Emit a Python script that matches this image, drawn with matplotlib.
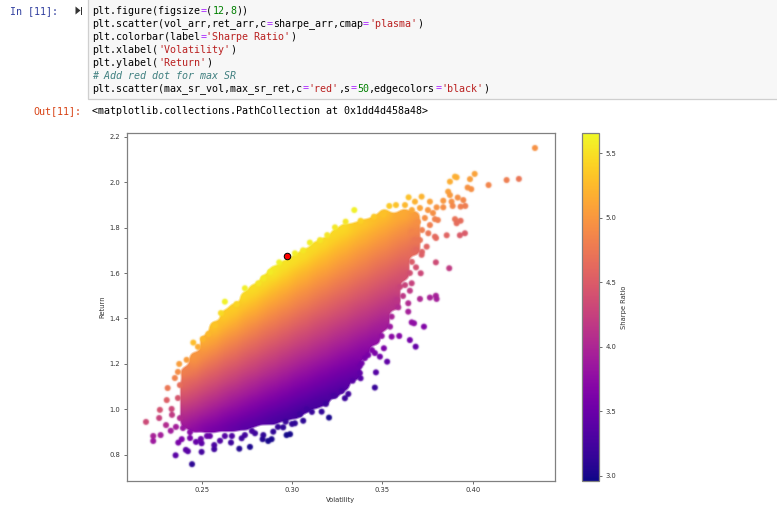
import numpy as np
import matplotlib
matplotlib.use("Agg")
import matplotlib.pyplot as plt
from matplotlib.patches import Rectangle, Polygon

# body of the cloud, one row per volatility column
vol_cols = [0.241, 0.246, 0.252, 0.257, 0.263, 0.268, 0.274, 0.279, 0.285, 0.290, 0.296, 0.302,
            0.307, 0.313, 0.318, 0.324, 0.329, 0.335, 0.340, 0.346, 0.351, 0.357, 0.362, 0.368]
ret_rows = [
    [.94, .975, 1.01, 1.045, 1.08, 1.115, 1.165],
    [.92, .955, .99, 1.025, 1.06, 1.095, 1.13, 1.165, 1.2, 1.23],
    [.92, .955, .99, 1.025, 1.06, 1.095, 1.13, 1.165, 1.2, 1.235, 1.27, 1.305],
    [.92, .955, .99, 1.025, 1.06, 1.095, 1.13, 1.165, 1.2, 1.235, 1.27, 1.305, 1.34, 1.365],
    [.925, .96, .995, 1.03, 1.065, 1.1, 1.135, 1.17, 1.205, 1.24, 1.275, 1.31, 1.345, 1.38, 1.415],
    [.925, .96, .995, 1.03, 1.065, 1.1, 1.135, 1.17, 1.205, 1.24, 1.275, 1.31, 1.345, 1.38, 1.415, 1.445],
    [.93, .965, 1.0, 1.035, 1.07, 1.105, 1.14, 1.175, 1.21, 1.245, 1.28, 1.315, 1.35, 1.385, 1.42, 1.455, 1.495],
    [.945, .98, 1.015, 1.05, 1.085, 1.12, 1.155, 1.19, 1.225, 1.26, 1.295, 1.33, 1.365, 1.4, 1.435, 1.47, 1.505, 1.53],
    [.955, .99, 1.025, 1.06, 1.095, 1.13, 1.165, 1.2, 1.235, 1.27, 1.305, 1.34, 1.375, 1.41, 1.445, 1.48, 1.515, 1.545, 1.57],
    [.955, .99, 1.025, 1.06, 1.095, 1.13, 1.165, 1.2, 1.235, 1.27, 1.305, 1.34, 1.375, 1.41, 1.445, 1.48, 1.515, 1.55, 1.585, 1.61],
    [.97, 1.005, 1.04, 1.075, 1.11, 1.145, 1.18, 1.215, 1.25, 1.285, 1.32, 1.355, 1.39, 1.425, 1.46, 1.495, 1.53, 1.565, 1.6, 1.635],
    [.98, 1.015, 1.05, 1.085, 1.12, 1.155, 1.19, 1.225, 1.26, 1.295, 1.33, 1.365, 1.4, 1.435, 1.47, 1.505, 1.54, 1.575, 1.61, 1.645, 1.66],
    [1.005, 1.04, 1.075, 1.11, 1.145, 1.18, 1.215, 1.25, 1.285, 1.32, 1.355, 1.39, 1.425, 1.46, 1.495, 1.53, 1.565, 1.6, 1.635, 1.67, 1.685],
    [1.025, 1.06, 1.095, 1.13, 1.165, 1.2, 1.235, 1.27, 1.305, 1.34, 1.375, 1.41, 1.445, 1.48, 1.515, 1.55, 1.585, 1.62, 1.655, 1.69, 1.715],
    [1.04, 1.075, 1.11, 1.145, 1.18, 1.215, 1.25, 1.285, 1.32, 1.355, 1.39, 1.425, 1.46, 1.495, 1.53, 1.565, 1.6, 1.635, 1.67, 1.705, 1.735],
    [1.075, 1.11, 1.145, 1.18, 1.215, 1.25, 1.285, 1.32, 1.355, 1.39, 1.425, 1.46, 1.495, 1.53, 1.565, 1.6, 1.635, 1.67, 1.705, 1.74, 1.77],
    [1.105, 1.14, 1.175, 1.21, 1.245, 1.28, 1.315, 1.35, 1.385, 1.42, 1.455, 1.49, 1.525, 1.56, 1.595, 1.63, 1.665, 1.7, 1.735, 1.77, 1.795],
    [1.15, 1.185, 1.22, 1.255, 1.29, 1.325, 1.36, 1.395, 1.43, 1.465, 1.5, 1.535, 1.57, 1.605, 1.64, 1.675, 1.71, 1.745, 1.78, 1.8],
    [1.25, 1.285, 1.32, 1.355, 1.39, 1.425, 1.46, 1.495, 1.53, 1.565, 1.6, 1.635, 1.67, 1.705, 1.74, 1.775, 1.815],
    [1.305, 1.34, 1.375, 1.41, 1.445, 1.48, 1.515, 1.55, 1.585, 1.62, 1.655, 1.69, 1.725, 1.76, 1.795, 1.83],
    [1.37, 1.405, 1.44, 1.475, 1.51, 1.545, 1.58, 1.615, 1.65, 1.685, 1.72, 1.755, 1.79, 1.825, 1.86],
    [1.46, 1.495, 1.53, 1.565, 1.6, 1.635, 1.67, 1.705, 1.74, 1.775, 1.81, 1.84],
    [1.59, 1.625, 1.66, 1.695, 1.73, 1.765, 1.8, 1.835, 1.86],
    [1.7, 1.735, 1.77, 1.805, 1.85],
]
sharpe_rows = [
    [3.90, 4.05, 4.19, 4.34, 4.48, 4.63, 4.83],
    [3.74, 3.88, 4.02, 4.17, 4.31, 4.45, 4.59, 4.74, 4.88, 5.00],
    [3.65, 3.79, 3.93, 4.07, 4.21, 4.35, 4.48, 4.62, 4.76, 4.90, 5.04, 5.18],
    [3.58, 3.72, 3.85, 3.99, 4.12, 4.26, 4.40, 4.53, 4.67, 4.81, 4.94, 5.08, 5.21, 5.31],
    [3.52, 3.65, 3.78, 3.92, 4.05, 4.18, 4.32, 4.45, 4.58, 4.71, 4.85, 4.98, 5.11, 5.25, 5.38],
    [3.45, 3.58, 3.71, 3.84, 3.97, 4.10, 4.24, 4.37, 4.50, 4.63, 4.76, 4.89, 5.02, 5.15, 5.28, 5.39],
    [3.39, 3.52, 3.65, 3.78, 3.91, 4.03, 4.16, 4.29, 4.42, 4.54, 4.67, 4.80, 4.93, 5.05, 5.18, 5.31, 5.46],
    [3.39, 3.51, 3.64, 3.76, 3.89, 4.01, 4.14, 4.27, 4.39, 4.52, 4.64, 4.77, 4.89, 5.02, 5.14, 5.27, 5.39, 5.48],
    [3.35, 3.47, 3.60, 3.72, 3.84, 3.96, 4.09, 4.21, 4.33, 4.46, 4.58, 4.70, 4.82, 4.95, 5.07, 5.19, 5.32, 5.42, 5.51],
    [3.29, 3.41, 3.53, 3.66, 3.78, 3.90, 4.02, 4.14, 4.26, 4.38, 4.50, 4.62, 4.74, 4.86, 4.98, 5.10, 5.22, 5.34, 5.47, 5.55],
    [3.28, 3.40, 3.51, 3.63, 3.75, 3.87, 3.99, 4.10, 4.22, 4.34, 4.46, 4.58, 4.70, 4.81, 4.93, 5.05, 5.17, 5.29, 5.41, 5.52],
    [3.25, 3.36, 3.48, 3.59, 3.71, 3.82, 3.94, 4.06, 4.17, 4.29, 4.40, 4.52, 4.64, 4.75, 4.87, 4.98, 5.10, 5.22, 5.33, 5.45, 5.50],
    [3.27, 3.39, 3.50, 3.62, 3.73, 3.84, 3.96, 4.07, 4.19, 4.30, 4.41, 4.53, 4.64, 4.76, 4.87, 4.98, 5.10, 5.21, 5.33, 5.44, 5.49],
    [3.27, 3.39, 3.50, 3.61, 3.72, 3.83, 3.95, 4.06, 4.17, 4.28, 4.39, 4.50, 4.62, 4.73, 4.84, 4.95, 5.06, 5.18, 5.29, 5.40, 5.48],
    [3.27, 3.38, 3.49, 3.60, 3.71, 3.82, 3.93, 4.04, 4.15, 4.26, 4.37, 4.48, 4.59, 4.70, 4.81, 4.92, 5.03, 5.14, 5.25, 5.36, 5.46],
    [3.32, 3.43, 3.53, 3.64, 3.75, 3.86, 3.97, 4.07, 4.18, 4.29, 4.40, 4.51, 4.61, 4.72, 4.83, 4.94, 5.05, 5.15, 5.26, 5.37, 5.46],
    [3.36, 3.47, 3.57, 3.68, 3.78, 3.89, 4.00, 4.10, 4.21, 4.32, 4.42, 4.53, 4.64, 4.74, 4.85, 4.95, 5.06, 5.17, 5.27, 5.38, 5.46],
    [3.43, 3.54, 3.64, 3.75, 3.85, 3.96, 4.06, 4.16, 4.27, 4.37, 4.48, 4.58, 4.69, 4.79, 4.90, 5.00, 5.10, 5.21, 5.31, 5.37],
    [3.68, 3.78, 3.88, 3.99, 4.09, 4.19, 4.29, 4.40, 4.50, 4.60, 4.71, 4.81, 4.91, 5.01, 5.12, 5.22, 5.34],
    [3.77, 3.87, 3.97, 4.08, 4.18, 4.28, 4.38, 4.48, 4.58, 4.68, 4.78, 4.88, 4.99, 5.09, 5.19, 5.29],
    [3.90, 4.00, 4.10, 4.20, 4.30, 4.40, 4.50, 4.60, 4.70, 4.80, 4.90, 5.00, 5.10, 5.20, 5.30],
    [4.09, 4.19, 4.29, 4.38, 4.48, 4.58, 4.68, 4.78, 4.87, 4.97, 5.07, 5.15],
    [4.39, 4.49, 4.59, 4.68, 4.78, 4.88, 4.97, 5.07, 5.14],
    [4.62, 4.71, 4.81, 4.90, 5.03],
]

# fringe and lone points, each triple read one by one: (vol, ret, sharpe)
fringe_points = [
    # upper edge
    (.2605, 1.424, 5.47), (.2627, 1.474, 5.61), (.2692, 1.464, 5.44), (.2738, 1.533, 5.60), (.2812, 1.555, 5.53),
    (.2840, 1.577, 5.55), (.2877, 1.605, 5.58), (.2928, 1.647, 5.62), (.3015, 1.687, 5.60), (.3060, 1.700, 5.56),
    (.3098, 1.734, 5.60), (.3154, 1.745, 5.53), (.3194, 1.767, 5.53), (.3237, 1.801, 5.56), (.3296, 1.826, 5.54),
    (.3344, 1.877, 5.61), (.3379, 1.830, 5.41), (.3453, 1.848, 5.35), (.3504, 1.859, 5.30), (.3538, 1.895, 5.36),
    (.3575, 1.899, 5.31), (.3645, 1.933, 5.30), (.3717, 1.936, 5.21), (.3680, 1.914, 5.20), (.3763, 1.914, 5.09),
    (.3800, 1.889, 4.97), (.3837, 1.918, 5.00), (.3837, 1.889, 4.92), (.3883, 1.914, 4.93), (.3889, 1.895, 4.87),
    (.3917, 1.932, 4.93), (.3948, 1.921, 4.87), (.3933, 1.892, 4.81), (.3959, 1.895, 4.79), (.3864, 1.958, 5.07),
    (.3874, 1.943, 5.02), (.3874, 2.002, 5.17), (.3902, 2.024, 5.19), (.3911, 2.021, 5.17), (.3985, 2.013, 5.05),
    (.4011, 2.036, 5.08), (.3972, 1.976, 4.97), (.3992, 1.969, 4.93), (.4088, 1.987, 4.86), (.4188, 2.009, 4.80),
    (.4256, 2.014, 4.73), (.4345, 2.150, 4.95),
    # right side
    (.3625, 1.899, 5.24), (.3663, 1.877, 5.12), (.3708, 1.886, 5.09), (.3752, 1.877, 5.00), (.3780, 1.864, 4.93),
    (.3735, 1.842, 4.93), (.3697, 1.825, 4.94), (.3763, 1.811, 4.81), (.3719, 1.789, 4.81), (.3663, 1.781, 4.86),
    (.3754, 1.775, 4.73), (.3791, 1.837, 4.85), (.3807, 1.833, 4.81), (.3902, 1.837, 4.71), (.3911, 1.819, 4.65),
    (.3933, 1.830, 4.65), (.3856, 1.766, 4.58), (.3929, 1.766, 4.49), (.3957, 1.775, 4.49), (.3791, 1.760, 4.64),
    (.3797, 1.754, 4.62), (.3708, 1.745, 4.71), (.3745, 1.716, 4.58), (.3719, 1.693, 4.55), (.3717, 1.680, 4.52),
    (.3680, 1.745, 4.74), (.3686, 1.702, 4.62), (.3796, 1.647, 4.34), (.3870, 1.621, 4.19), (.3712, 1.599, 4.31),
    (.3686, 1.625, 4.41), (.3663, 1.649, 4.50), (.3652, 1.600, 4.38), (.3652, 1.522, 4.17), (.3662, 1.555, 4.25),
    (.3625, 1.547, 4.27), (.3597, 1.539, 4.28), (.3708, 1.486, 4.01), (.3763, 1.492, 3.96), (.3796, 1.500, 3.95),
    (.3800, 1.486, 3.91), (.3643, 1.467, 4.03), (.3643, 1.430, 3.93), (.3588, 1.449, 4.04), (.3551, 1.408, 3.97),
    (.3580, 1.481, 4.14), (.3614, 1.499, 4.15),
    # lower right
    (.3662, 1.383, 3.78), (.3675, 1.379, 3.75), (.3730, 1.364, 3.66), (.3542, 1.364, 3.85), (.3496, 1.323, 3.79),
    (.3551, 1.320, 3.72), (.3593, 1.323, 3.68), (.3652, 1.305, 3.57), (.3684, 1.276, 3.46), (.3508, 1.269, 3.62),
    (.3486, 1.232, 3.53), (.3421, 1.239, 3.62), (.3458, 1.248, 3.61), (.3526, 1.210, 3.43), (.3385, 1.203, 3.55),
    (.3464, 1.163, 3.36), (.3458, 1.096, 3.17), (.3379, 1.137, 3.36), (.3375, 1.160, 3.44), (.3335, 1.126, 3.38),
    (.3311, 1.068, 3.23), (.3292, 1.049, 3.19), (.3274, 1.081, 3.30), (.3237, 1.060, 3.27), (.3204, 0.964, 3.01),
    (.3163, 0.990, 3.13), (.3227, 1.059, 3.28), (.3403, 1.226, 3.60), (.3442, 1.261, 3.66), (.3375, 1.191, 3.53),
    # lower edge
    (.3080, 1.001, 3.25), (.3061, 0.950, 3.10), (.3043, 0.979, 3.22), (.3015, 0.939, 3.11), (.2988, 0.891, 3.00),
    (.2969, 0.887, 2.99), (.2964, 0.946, 3.19), (.2950, 0.921, 3.12), (.2895, 0.902, 3.12), (.2886, 0.869, 3.01),
    (.2867, 0.861, 3.00), (.2836, 0.869, 3.06), (.2840, 0.887, 3.12), (.2794, 0.895, 3.20), (.2766, 0.835, 3.02),
    (.2720, 0.873, 3.21), (.2707, 0.827, 3.05), (.2661, 0.854, 3.21), (.2600, 0.862, 3.32), (.2568, 0.825, 3.21),
    (.2568, 0.843, 3.28), (.2498, 0.813, 3.25), (.2498, 0.851, 3.41), (.2494, 0.870, 3.49), (.2445, 0.759, 3.10),
    (.2422, 0.816, 3.37), (.2411, 0.822, 3.41), (.2354, 0.798, 3.39), (.2369, 0.854, 3.60), (.2388, 0.869, 3.64),
    (.2434, 0.874, 3.59), (.2467, 0.857, 3.47), (.2528, 0.883, 3.49), (.2627, 0.883, 3.36), (.2738, 0.887, 3.24),
    (.2544, 0.883, 3.47), (.2666, 0.883, 3.31), (.2777, 0.905, 3.26), (.2921, 0.923, 3.16), (.2999, 0.936, 3.12),
    (.3109, 0.989, 3.18), (.3187, 1.024, 3.21),
    # left side
    (.2356, 0.923, 3.92), (.2327, 0.906, 3.89), (.2301, 0.931, 4.05), (.2271, 0.887, 3.91), (.2230, 0.883, 3.96),
    (.2230, 0.861, 3.86), (.2190, 0.945, 4.32), (.2263, 0.962, 4.25), (.2267, 0.998, 4.40), (.2332, 1.002, 4.30),
    (.2305, 1.041, 4.52), (.2310, 1.094, 4.74), (.2350, 1.138, 4.84), (.2367, 1.050, 4.44), (.2334, 0.976, 4.18),
    (.2378, 0.962, 4.05), (.2395, 0.918, 3.83), (.2434, 0.900, 3.70), (.2374, 1.200, 5.05), (.2415, 1.218, 5.04),
    (.2452, 1.294, 5.28), (.2478, 1.275, 5.15), (.2504, 1.310, 5.23), (.2535, 1.332, 5.25), (.2572, 1.371, 5.33),
    (.2378, 1.107, 4.66), (.2367, 1.165, 4.92),
]

max_sr_vol = 0.297
max_sr_ret = 1.675

x_ticks = [0.25, 0.30, 0.35, 0.40]
y_ticks = [0.8, 1.0, 1.2, 1.4, 1.6, 1.8, 2.0, 2.2]
cbar_ticks = [3.0, 3.5, 4.0, 4.5, 5.0, 5.5]

BLACK = "#000000"
OPER = "#aa22ff"
STR = "#ba2121"
NUM = "#008000"
COMM = "#408080"

code_lines = [
    [("plt.figure(figsize", BLACK), ("=", OPER), ("(", BLACK), ("12", NUM), (",", BLACK), ("8", NUM), ("))", BLACK)],
    [("plt.scatter(vol_arr,ret_arr,c", BLACK), ("=", OPER), ("sharpe_arr,cmap", BLACK), ("=", OPER), ("'plasma'", STR), (")", BLACK)],
    [("plt.colorbar(label", BLACK), ("=", OPER), ("'Sharpe Ratio'", STR), (")", BLACK)],
    [("plt.xlabel(", BLACK), ("'Volatility'", STR), (")", BLACK)],
    [("plt.ylabel(", BLACK), ("'Return'", STR), (")", BLACK)],
    [("# Add red dot for max SR", COMM)],
    [("plt.scatter(max_sr_vol,max_sr_ret,c", BLACK), ("=", OPER), ("'red'", STR), (",s", BLACK), ("=", OPER), ("50", NUM),
     (",edgecolors", BLACK), ("=", OPER), ("'black'", STR), (")", BLACK)],
]
out_text = "<matplotlib.collections.PathCollection at 0x1dd4d458a48>"


def blur_1d(arr, kernel, axis):
    return np.apply_along_axis(lambda m: np.convolve(m, kernel, mode="same"), axis, arr)


def soft_filter(sigma, sharpen=1.0):
    """
    agg_filter: gaussian blur of the drawn dots, the reference is a scaled-down
    screenshot. sharpen > 1 pulls the blurred outline back to a firm edge.
    """
    def apply(im, dpi):
        pad = int(3 * sigma) + 2
        src = np.pad(im, [(pad, pad), (pad, pad), (0, 0)], "constant")
        xs = np.arange(-pad, pad + 1)
        kernel = np.exp(-0.5 * (xs / sigma) ** 2)
        kernel /= kernel.sum()

        out = np.zeros_like(src)
        alpha = blur_1d(blur_1d(src[:, :, 3], kernel, 0), kernel, 1)
        for i in range(3):
            chan = blur_1d(blur_1d(src[:, :, i] * src[:, :, 3], kernel, 0), kernel, 1)
            out[:, :, i] = chan / np.maximum(alpha, 1e-4)
        out[:, :, 3] = np.clip((alpha - 0.5) * sharpen + 0.5, 0, 1) if sharpen > 1 else alpha
        return np.clip(out, 0, 1), -pad, -pad
    return apply


def draw_notebook(fig):
    # overlay in pixel coordinates for the notebook chrome
    ui = fig.add_axes([0, 0, 1, 1], zorder=0)
    ui.set_xlim(0, 777)
    ui.set_ylim(515, 0)
    ui.axis("off")

    ui.add_patch(Rectangle((87.5, -3), 695, 101.5, facecolor="#f7f7f7", edgecolor="#cfcfcf", linewidth=0.9))

    mono = "DejaVu Sans Mono"
    ui.text(10, 10.7, "In [11]:", family=mono, fontsize=7.2, color="#303f9f", va="center")
    ui.text(33, 111, "Out[11]:", family=mono, fontsize=7.2, color="#d84315", va="center")
    ui.text(91.7, 111, out_text, family=mono, fontsize=7.2, color="black", va="center")

    # run-cell icon
    ui.add_patch(Polygon([(75.5, 6.5), (80.5, 10.5), (75.5, 14.5)], closed=True, facecolor="#333333", edgecolor="none"))
    ui.add_patch(Rectangle((80.5, 6.5), 1.6, 8, facecolor="#333333", edgecolor="none"))

    char_w = 6.03
    for row, tokens in enumerate(code_lines):
        y = 10.7 + row * 12.97
        pos = 0
        for token, color in tokens:
            style = "italic" if color == COMM else "normal"
            ui.text(91.7 + pos * char_w, y, token, family=mono, fontsize=7.2, color=color, va="center", style=style)
            pos += len(token)


def main():
    fig = plt.figure(figsize=(7.77, 5.15), dpi=100)
    draw_notebook(fig)

    ax = fig.add_axes([126.5 / 777, 1 - 481 / 515, (555 - 126.5) / 777, (481 - 133) / 515], zorder=1)
    cax = fig.add_axes([581.7 / 777, 1 - 481 / 515, (599.3 - 581.7) / 777, (481 - 133) / 515], zorder=1)

    vol_arr = np.concatenate([[v] * len(r) for v, r in zip(vol_cols, ret_rows)])
    ret_arr = np.concatenate(ret_rows)
    sharpe_arr = np.concatenate(sharpe_rows)
    fringe = np.array(fringe_points)

    norm = plt.Normalize(2.96, 5.655)
    # body uses wider dots so the listed points close up into a solid cloud
    body = ax.scatter(vol_arr, ret_arr, c=sharpe_arr, cmap="plasma", norm=norm, s=72, linewidths=0)
    body.set_agg_filter(soft_filter(2.6, sharpen=3.0))
    sc = ax.scatter(fringe[:, 0], fringe[:, 1], c=fringe[:, 2], cmap="plasma", norm=norm, s=19, linewidths=0)
    sc.set_agg_filter(soft_filter(0.55))
    ax.scatter(max_sr_vol, max_sr_ret, c="red", s=22, edgecolors="black", linewidths=0.7)

    ax.set_xlim(0.2082, 0.4456)
    ax.set_ylim(0.685, 2.216)
    ax.set_xticks(x_ticks)
    ax.set_xticklabels([f"{t:.2f}" for t in x_ticks])
    ax.set_yticks(y_ticks)
    ax.set_yticklabels([f"{t:.1f}" for t in y_ticks])
    ax.tick_params(labelsize=4.9, length=2.5, width=0.6, color="#555555", labelcolor="#333333", pad=2)
    ax.set_xlabel("Volatility", fontsize=4.9, color="#333333", labelpad=3)
    ax.set_ylabel("Return", fontsize=4.9, color="#333333", labelpad=3)
    for spine in ax.spines.values():
        spine.set_color("#808080")
        spine.set_linewidth(0.9)

    cbar = fig.colorbar(sc, cax=cax, label="Sharpe Ratio")
    cbar.set_ticks(cbar_ticks)
    cbar.ax.tick_params(labelsize=4.9, length=2.5, width=0.6, color="#555555", labelcolor="#333333", pad=2)
    cbar.set_label("Sharpe Ratio", fontsize=4.9, color="#333333", labelpad=3)
    cbar.outline.set_edgecolor("#808080")
    cbar.outline.set_linewidth(0.9)

    fig.savefig("out.png", dpi=100)


if __name__ == "__main__":
    main()
